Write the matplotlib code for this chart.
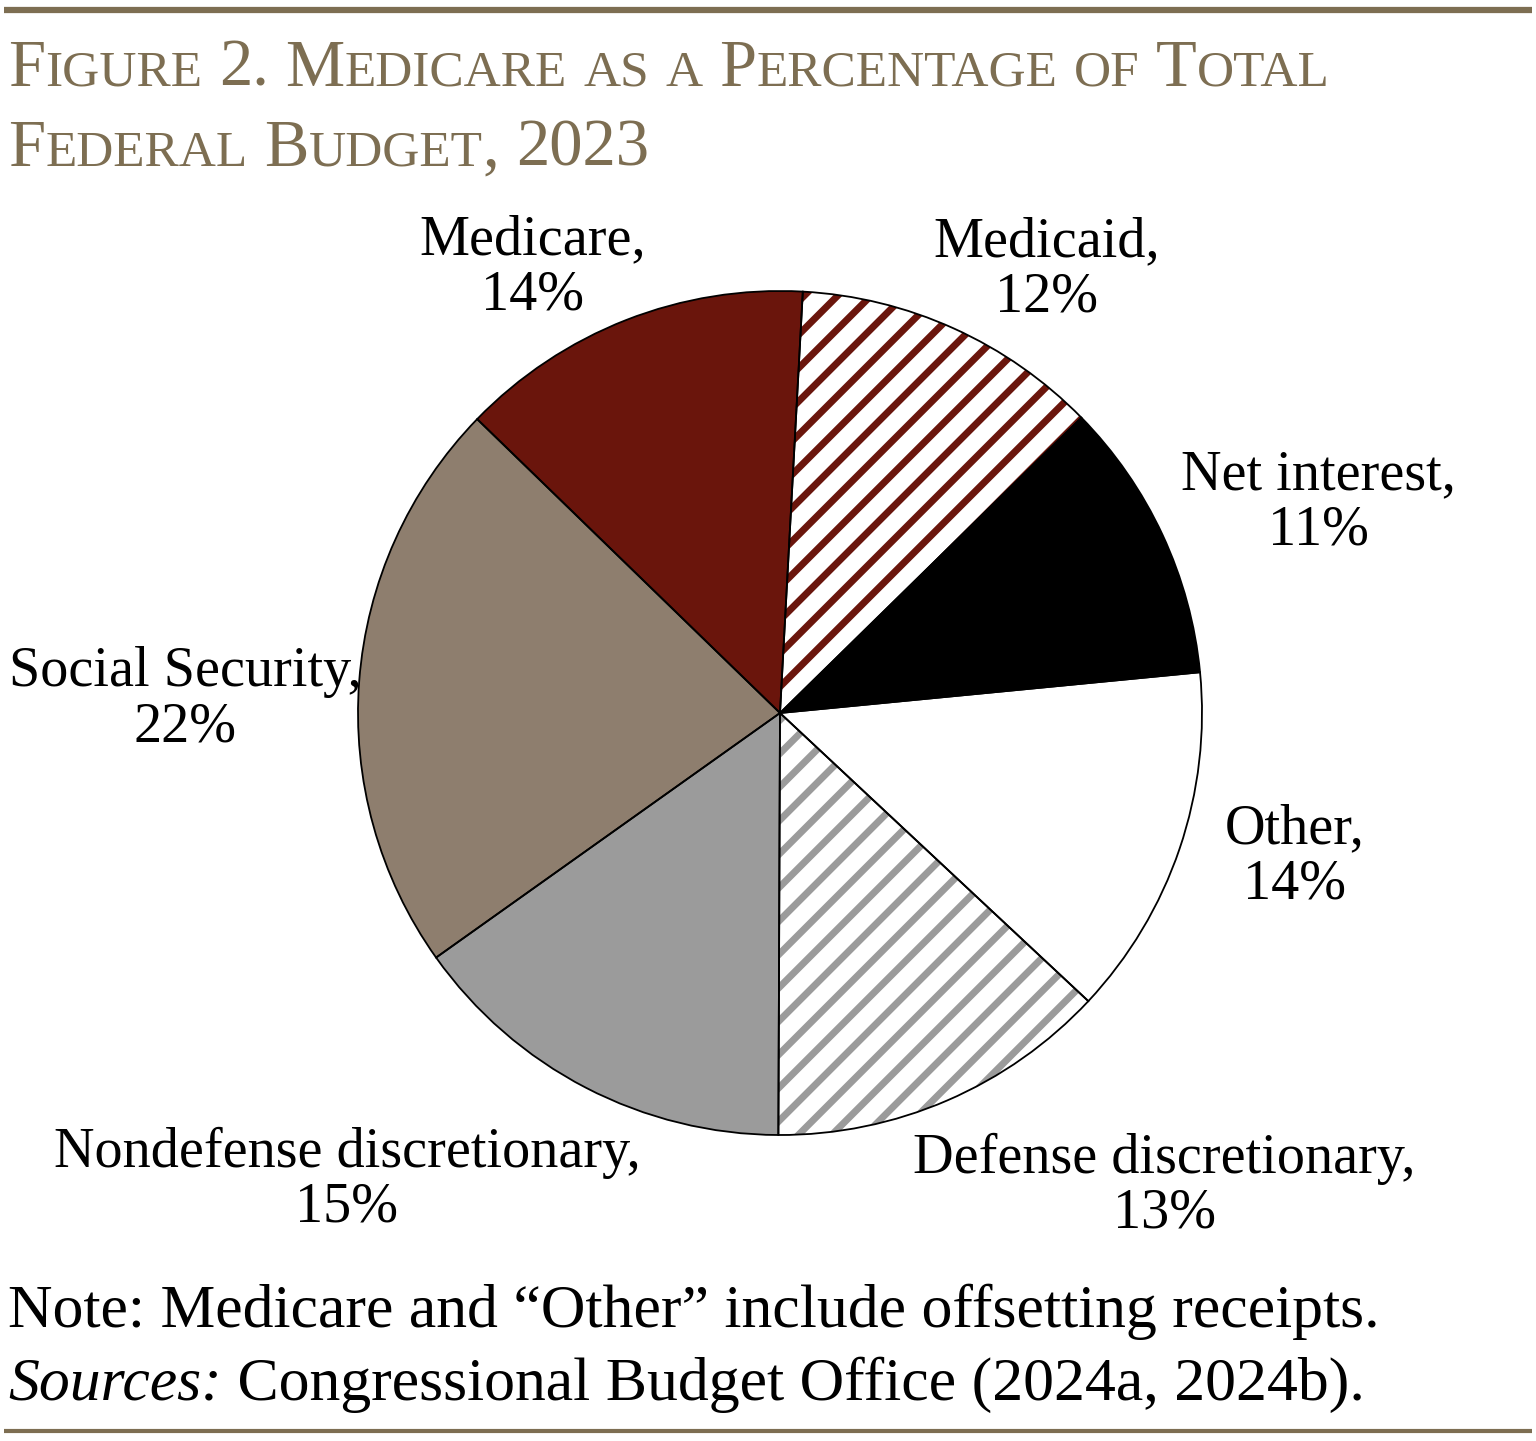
import matplotlib
matplotlib.use("Agg")
import matplotlib.pyplot as plt

# ---- data ----
categories = ["Medicaid", "Net interest", "Other", "Defense discretionary",
              "Nondefense discretionary", "Social Security", "Medicare"]
values = [11.8, 10.8, 13.5, 13.1, 15.1, 22.1, 13.6]
pct_labels = [12, 11, 14, 13, 15, 22, 14]

face_colors = ["white", "black", "white", "white", "#9b9b9b", "#8e7e6e", "#6a150c"]
hatch_colors = ["#6a150c", "black", "white", "#9b9b9b", "#9b9b9b", "#8e7e6e", "#6a150c"]
hatches = ["/", None, None, "/", None, None, None]

# label centres (figure pixels from top-left)
label_pos = [(1047, 270), (1318, 503), (1295, 857), (1164, 1186),
             (347, 1180), (185, 700), (533, 268)]

FONT = "Liberation Serif"
TITLE_COLOR = "#7d6e52"
W, H = 1536, 1441

plt.rcParams["hatch.linewidth"] = 5.0

fig = plt.figure(figsize=(W / 100, H / 100), dpi=100)
ax = fig.add_axes([0, 0, 1, 1])
ax.set_xlim(0, W)
ax.set_ylim(0, H)
ax.set_aspect("equal")
ax.axis("off")

cx, cy, R = 780, H - 713, 422

# filled / hatched wedges (edge colour = hatch colour, no outline)
wedges, _ = ax.pie(values, startangle=86.9, counterclock=False,
                   center=(cx, cy), radius=R, colors=face_colors,
                   wedgeprops=dict(linewidth=0), frame=True)
for w, hc, h in zip(wedges, hatch_colors, hatches):
    w.set_edgecolor(hc)
    w.set_linewidth(0)
    if h:
        w.set_hatch(h)
# outlines on top
ax.pie(values, startangle=86.9, counterclock=False, center=(cx, cy), radius=R,
       colors=["none"] * len(values),
       wedgeprops=dict(linewidth=1.3, edgecolor="black", facecolor="none"), frame=True)
ax.set_xlim(0, W)
ax.set_ylim(0, H)
ax.axis("off")

for cat, p, (lx, ly) in zip(categories, pct_labels, label_pos):
    ax.text(lx, H - ly, f"{cat},\n{p}%", ha="center", va="center",
            multialignment="center", fontsize=40.5, family=FONT, linespacing=1.08)

renderer = fig.canvas.get_renderer()


def text_width(s, size, **kw):
    t = ax.text(0, 0, s, fontsize=size, family=FONT, **kw)
    w = t.get_window_extent(renderer).width
    t.remove()
    return w


def small_caps(x, y, s, big, small, color):
    space = text_width("x x", big) - text_width("xx", big)
    runs = []
    for ch in s:
        if ch == " ":
            kind = "sp"
        elif ch.islower():
            kind = "sm"
        else:
            kind = "bg"
        if runs and runs[-1][0] == kind:
            runs[-1][1] += ch
        else:
            runs.append([kind, ch])
    for kind, txt in runs:
        if kind == "sp":
            x += space * len(txt)
            continue
        size = small if kind == "sm" else big
        shown = txt.upper()
        ax.text(x, y, shown, fontsize=size, family=FONT, color=color,
                va="baseline", ha="left")
        x += text_width(shown, size)


small_caps(8, H - 86, "Figure 2. Medicare as a Percentage of Total", 48, 37, TITLE_COLOR)
small_caps(8, H - 166, "Federal Budget, 2023", 48, 37, TITLE_COLOR)

# rules
ax.plot([4, 1532], [H - 10, H - 10], color=TITLE_COLOR, lw=4.5, solid_capstyle="butt")
ax.plot([4, 1532], [H - 1431, H - 1431], color=TITLE_COLOR, lw=3, solid_capstyle="butt")

# notes
NOTE_FS = 44.5
ax.text(8, H - 1327, "Note: Medicare and \u201cOther\u201d include offsetting receipts.",
        fontsize=NOTE_FS, family=FONT, va="baseline", ha="left")
t1 = ax.text(8, H - 1400, "Sources:", fontsize=NOTE_FS, family=FONT, style="italic",
             va="baseline", ha="left")
wS = t1.get_window_extent(renderer).width
ax.text(8 + wS, H - 1400, " Congressional Budget Office (2024a, 2024b).",
        fontsize=NOTE_FS, family=FONT, va="baseline", ha="left")

fig.savefig("out.png", dpi=100)
